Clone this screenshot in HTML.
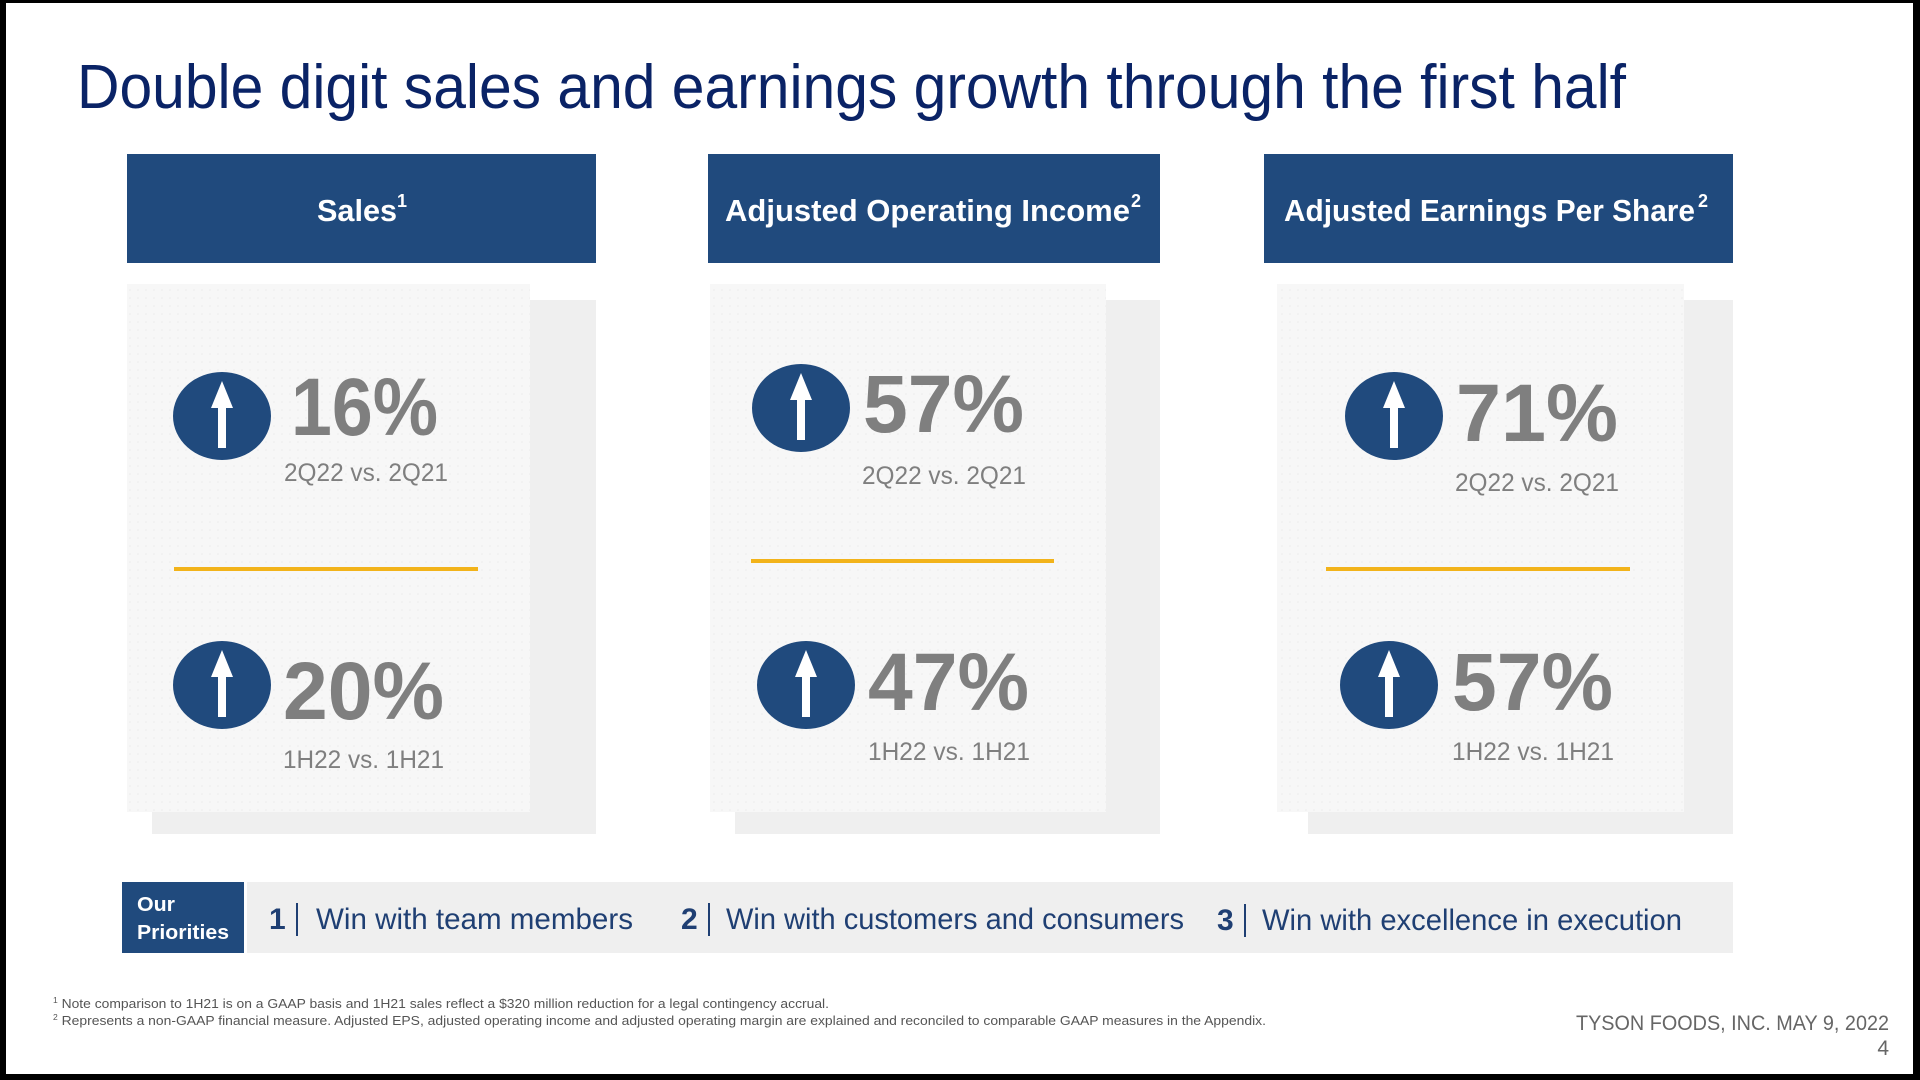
<!DOCTYPE html>
<html><head><meta charset="utf-8"><style>
html,body{margin:0;padding:0;background:#000;}
svg{display:block;}
</style></head><body>
<svg width="1920" height="1080" viewBox="0 0 1920 1080" xmlns="http://www.w3.org/2000/svg" font-family="'Liberation Sans', sans-serif">
<defs>
<pattern id="dots" width="8" height="8" patternUnits="userSpaceOnUse">
<rect width="8" height="8" fill="#f7f7f7"/><circle cx="2" cy="2" r="0.8" fill="#ececec"/>
</pattern>
<g id="arr">
<ellipse cx="0" cy="0" rx="49" ry="44" fill="#204a7d"/>
<polygon points="0,-35 -11,-8 -4,-8 -4,32 4,32 4,-8 11,-8" fill="#fff"/>
</g>
</defs>
<rect x="6" y="3" width="1907" height="1071" fill="#fff"/>
<text x="77" y="108" font-size="62" fill="#0a2366" textLength="1549" lengthAdjust="spacingAndGlyphs">Double digit sales and earnings growth through the first half</text>

<rect x="127" y="154" width="469" height="109" fill="#204a7d"/>
<rect x="708" y="154" width="452" height="109" fill="#204a7d"/>
<rect x="1264" y="154" width="469" height="109" fill="#204a7d"/>
<g fill="#fff" font-weight="bold" font-size="31">
<text x="317" y="221" textLength="80" lengthAdjust="spacingAndGlyphs">Sales</text><text x="397" y="207" font-size="18">1</text>
<text x="725" y="221" textLength="405" lengthAdjust="spacingAndGlyphs">Adjusted Operating Income</text><text x="1131" y="207" font-size="18">2</text>
<text x="1284" y="221" textLength="411" lengthAdjust="spacingAndGlyphs">Adjusted Earnings Per Share</text><text x="1698" y="207" font-size="18">2</text>
</g>

<rect x="152" y="300" width="444" height="534" fill="#efefef"/>
<rect x="127" y="284" width="403" height="528" fill="url(#dots)"/>
<rect x="735" y="300" width="425" height="534" fill="#efefef"/>
<rect x="710" y="284" width="396" height="528" fill="url(#dots)"/>
<rect x="1308" y="300" width="425" height="534" fill="#efefef"/>
<rect x="1277" y="284" width="407" height="528" fill="url(#dots)"/>

<rect x="174" y="567" width="304" height="4" fill="#f2b31a"/>
<rect x="751" y="559" width="303" height="4" fill="#f2b31a"/>
<rect x="1326" y="567" width="304" height="4" fill="#f2b31a"/>

<use href="#arr" x="222" y="416"/><use href="#arr" x="222" y="685"/>
<use href="#arr" x="801" y="408"/><use href="#arr" x="806" y="685"/>
<use href="#arr" x="1394" y="416"/><use href="#arr" x="1389" y="685"/>

<g fill="#7f7f7f" font-weight="bold" font-size="82">
<text x="291" y="435" textLength="147" lengthAdjust="spacingAndGlyphs">16%</text>
<text x="283" y="719" textLength="161" lengthAdjust="spacingAndGlyphs">20%</text>
<text x="863" y="432" textLength="161" lengthAdjust="spacingAndGlyphs">57%</text>
<text x="868" y="710" textLength="161" lengthAdjust="spacingAndGlyphs">47%</text>
<text x="1456" y="441" textLength="162" lengthAdjust="spacingAndGlyphs">71%</text>
<text x="1452" y="710" textLength="161" lengthAdjust="spacingAndGlyphs">57%</text>
</g>
<g fill="#7f7f7f" font-size="25">
<text x="284" y="481" textLength="164" lengthAdjust="spacingAndGlyphs">2Q22 vs. 2Q21</text>
<text x="862" y="484" textLength="164" lengthAdjust="spacingAndGlyphs">2Q22 vs. 2Q21</text>
<text x="1455" y="491" textLength="164" lengthAdjust="spacingAndGlyphs">2Q22 vs. 2Q21</text>
<text x="283" y="768" textLength="161" lengthAdjust="spacingAndGlyphs">1H22 vs. 1H21</text>
<text x="868" y="760" textLength="162" lengthAdjust="spacingAndGlyphs">1H22 vs. 1H21</text>
<text x="1452" y="760" textLength="162" lengthAdjust="spacingAndGlyphs">1H22 vs. 1H21</text>
</g>

<rect x="244" y="882" width="1489" height="71" fill="#efefef"/>
<rect x="122" y="882" width="122" height="71" fill="#204a7d"/>
<rect x="244" y="882" width="3" height="71" fill="#fff"/>
<g fill="#fff" font-weight="bold" font-size="20">
<text x="137" y="911" textLength="38" lengthAdjust="spacingAndGlyphs">Our</text>
<text x="137" y="939" textLength="92" lengthAdjust="spacingAndGlyphs">Priorities</text>
</g>
<g fill="#1f3f73" font-size="30">
<text x="269" y="929" font-weight="bold">1</text><rect x="296" y="903" width="2" height="33"/>
<text x="316" y="929" textLength="317" lengthAdjust="spacingAndGlyphs">Win with team members</text>
<text x="681" y="929" font-weight="bold">2</text><rect x="708" y="903" width="2" height="33"/>
<text x="726" y="929" textLength="458" lengthAdjust="spacingAndGlyphs">Win with customers and consumers</text>
<text x="1217" y="930" font-weight="bold">3</text><rect x="1244" y="904" width="2" height="33"/>
<text x="1262" y="930" textLength="420" lengthAdjust="spacingAndGlyphs">Win with excellence in execution</text>
</g>

<g fill="#555" font-size="13">
<text x="53" y="1008" textLength="776" lengthAdjust="spacingAndGlyphs"><tspan font-size="8" dy="-5">1</tspan><tspan dy="5"> Note comparison to 1H21 is on a GAAP basis and 1H21 sales reflect a $320 million reduction for a legal contingency accrual.</tspan></text>
<text x="53" y="1025" textLength="1213" lengthAdjust="spacingAndGlyphs"><tspan font-size="8" dy="-5">2</tspan><tspan dy="5"> Represents a non-GAAP financial measure. Adjusted EPS, adjusted operating income and adjusted operating margin are explained and reconciled to comparable GAAP measures in the Appendix.</tspan></text>
</g>
<g fill="#666" font-size="21">
<text x="1576" y="1030" textLength="313" lengthAdjust="spacingAndGlyphs">TYSON FOODS, INC. MAY 9, 2022</text>
<text x="1889" y="1055" text-anchor="end">4</text>
</g>
</svg>
</body></html>
